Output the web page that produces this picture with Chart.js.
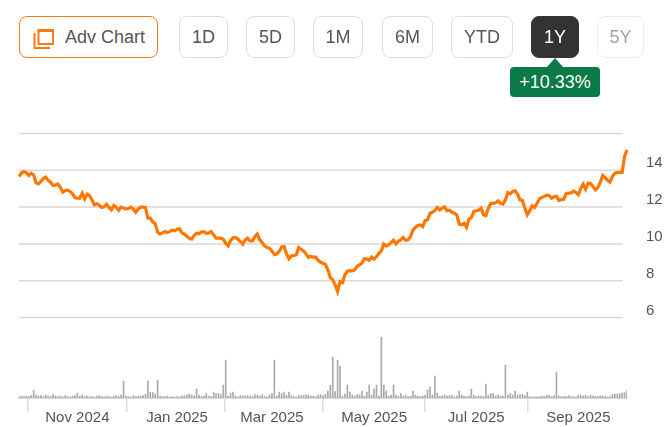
<!DOCTYPE html>
<html>
<head>
<meta charset="utf-8">
<title>Adv Chart</title>
<script src="https://cdn.jsdelivr.net/npm/chart.js@4/dist/chart.umd.min.js"></script>
<style>
  html, body { margin: 0; padding: 0; background: #fff; }
  body { width: 670px; height: 427px; position: relative; overflow: hidden; font-family: "Liberation Sans", Arial, sans-serif; }
  canvas { position: absolute; left: 0; top: 0; }
  .btn {
    position: absolute; top: 16px; height: 42px; box-sizing: border-box;
    border: 1px solid #dcdcdc; border-radius: 8px; background: #fff;
    color: #555; font-size: 18px; line-height: 40px; text-align: center;
  }
  .btn.adv { left: 19px; width: 139px; border-color: #f97a12; text-align: left; padding-left: 45px; }
  .btn.adv svg { position: absolute; left: 13px; top: 11px; }
  .btn.on { background: #333; border-color: #333; color: #fff; }
  .btn.off { color: #a3a3a3; border-color: #ececec; }
  .tip {
    position: absolute; left: 510px; top: 67px; width: 90px; height: 30px;
    background: #0a7a47; border-radius: 4px; color: #fff;
    font-size: 18px; line-height: 30px; text-align: center;
  }
  .tip::before {
    content: ""; position: absolute; left: 37px; top: -9px;
    border-left: 8px solid transparent; border-right: 8px solid transparent;
    border-bottom: 9px solid #0a7a47;
  }
</style>
</head>
<body>
<canvas id="chart" width="670" height="427"></canvas>
<div class="btn adv">
  <svg width="22" height="22" viewBox="0 0 22 22" fill="none" stroke="#f97a12">
    <rect x="5.5" y="2.5" width="14.5" height="13.5" stroke-width="2"/>
    <line x1="4.5" y1="2.5" x2="21" y2="2.5" stroke-width="3"/>
    <path d="M1.5 5 V20 H17" stroke-width="2"/>
  </svg>
  Adv Chart
</div>
<div class="btn" style="left:179px;width:49px">1D</div>
<div class="btn" style="left:246px;width:49px">5D</div>
<div class="btn" style="left:313px;width:50px">1M</div>
<div class="btn" style="left:382px;width:51px">6M</div>
<div class="btn" style="left:451px;width:62px">YTD</div>
<div class="btn on" style="left:531px;width:48px">1Y</div>
<div class="btn off" style="left:597px;width:47px">5Y</div>
<div class="tip">+10.33%</div>

<script>
  // values, one per trading day
  const prices = [
    13.66, 13.85, 13.93, 13.88, 13.72, 13.84, 13.75, 13.32, 13.26, 13.40,
    13.56, 13.63, 13.45, 13.35, 13.17, 13.20, 13.26, 13.08, 12.81, 12.90,
    12.92, 12.85, 12.72, 12.52, 12.48, 12.48, 12.76, 12.45, 12.70, 12.62,
    12.40, 12.12, 12.19, 12.10, 11.98, 12.02, 12.16, 11.98, 11.85, 12.09,
    11.98, 11.83, 12.00, 11.95, 11.90, 11.92, 12.00, 11.90, 11.72, 11.90,
    12.00, 12.00, 11.98, 11.40, 11.40, 11.20, 11.10, 10.64, 10.53, 10.60,
    10.67, 10.62, 10.68, 10.75, 10.71, 10.80, 10.82, 10.60, 10.53, 10.42,
    10.30, 10.26, 10.45, 10.58, 10.55, 10.65, 10.67, 10.58, 10.60, 10.67,
    10.50, 10.31, 10.31, 10.31, 10.25, 10.04, 9.89, 10.18, 10.33, 10.35,
    10.26, 10.13, 9.98, 10.22, 10.31, 10.16, 10.16, 10.40, 10.53, 10.22,
    10.07, 9.89, 9.80, 9.77, 9.62, 9.42, 9.46, 9.59, 9.84, 9.86,
    9.46, 9.19, 9.35, 9.37, 9.40, 9.80, 9.71, 9.62, 9.46, 9.26,
    9.33, 9.28, 9.28, 9.11, 9.00, 8.95, 8.88, 8.59, 8.17, 8.05,
    7.77, 7.41, 7.95, 7.90, 8.32, 8.52, 8.55, 8.53, 8.59, 8.77,
    8.86, 8.95, 9.19, 9.17, 9.11, 9.28, 9.17, 9.31, 9.49, 9.62,
    10.00, 9.89, 9.95, 10.07, 10.20, 10.00, 10.16, 10.22, 10.35, 10.20,
    10.22, 10.40, 10.76, 10.89, 11.00, 11.03, 10.94, 11.27, 11.31, 11.67,
    11.72, 11.81, 11.98, 11.85, 11.94, 12.01, 11.80, 11.83, 11.72, 11.67,
    11.58, 11.07, 11.04, 11.12, 10.90, 11.34, 11.43, 11.76, 11.80, 11.83,
    11.94, 11.58, 11.54, 11.94, 12.20, 12.20, 12.23, 12.34, 12.20, 12.16,
    12.39, 12.79, 12.72, 12.85, 12.88, 12.70, 12.39, 12.36, 11.94, 11.58,
    11.80, 12.07, 11.98, 12.20, 12.45, 12.52, 12.58, 12.65, 12.63, 12.48,
    12.56, 12.59, 12.36, 12.41, 12.43, 12.74, 12.76, 12.77, 12.88, 12.79,
    12.67, 13.03, 13.25, 12.97, 13.30, 13.28, 13.12, 12.94, 13.06, 13.35,
    13.72, 13.61, 13.46, 13.35, 13.66, 13.84, 13.88, 13.88, 13.88, 14.75,
    15.11
  ];

  const volumes = [
    1.5, 2, 1.5, 2, 1.5, 2.5, 7.5, 3, 2, 2.5,
    1.5, 3, 2, 1.5, 3.5, 2, 1.5, 2, 1, 2.5,
    1.5, 1, 2, 2.5, 5, 2, 3, 1.5, 2, 1.5,
    1.5, 1, 2, 2.5, 1.5, 1, 2, 1.5, 1, 2,
    2.5, 1.5, 3, 17, 2, 1.5, 1, 2.5, 1.5, 2,
    2, 2.5, 4, 17, 6, 5.5, 4, 18, 2, 1.5,
    1.5, 2, 1, 1.5, 1, 1.5, 1, 2, 2.5, 3,
    4, 3, 2, 9, 3, 1.5, 2, 4.5, 2, 1.5,
    6, 4.5, 4.5, 3.5, 13, 38, 2, 5, 6, 2,
    1, 2.5, 2.5, 2, 2.5, 2, 1.5, 3.5, 3, 2,
    3.5, 1.5, 1, 3, 4.5, 38, 2, 6, 4.5, 6,
    3, 6, 2.5, 1.5, 1, 3, 2.5, 2.5, 3, 3,
    2, 2, 1.5, 3, 3.5, 2.5, 4, 7, 13, 41,
    6.5, 38, 32, 2, 4, 13, 6, 3, 2, 3.5,
    3.5, 7, 2, 6, 13, 3, 9, 13, 2, 61,
    13, 7, 2, 3, 13, 3, 2, 4.5, 2, 3,
    1.5, 2, 7, 3, 2, 1.5, 2, 3, 8, 11,
    3, 22, 5, 2, 2, 3, 2, 2.5, 3, 1,
    2, 7, 3, 2, 1.5, 2, 9, 3, 1.5, 2,
    2, 1.5, 14, 3, 4.5, 4.5, 2, 3, 2, 2,
    33, 3, 4.5, 3, 7, 3, 3.5, 3.5, 2.5, 6,
    1.5, 1, 1.5, 1, 1.5, 2, 1.5, 3, 2.5, 1.5,
    2.5, 26, 2, 1.5, 1.5, 1.5, 2.5, 1.5, 1.5, 1,
    3, 3, 2, 3, 1.5, 3, 2, 2, 1.5, 2.5,
    2, 1.5, 1, 1.5, 3.5, 4, 4, 4.5, 5, 5.5,
    7.5
  ];

  const monthIndex  = [24, 65, 104, 146, 188, 230];
  const monthLabels = ["Nov 2024", "Jan 2025", "Mar 2025", "May 2025", "Jul 2025", "Sep 2025"];
  const priceTicks  = [6, 8, 10, 12, 14, 16];
  const priceLabels = ["6", "8", "10", "12", "14", ""];

  const labels = prices.map((_, i) => {
    const m = monthIndex.indexOf(i);
    return m >= 0 ? monthLabels[m] : "";
  });

  // horizontal rules stop a little short of the end of the line
  const shortGrid = {
    id: "shortGrid",
    beforeDatasetsDraw(chart) {
      const { ctx, chartArea, scales } = chart;
      ctx.save();
      ctx.strokeStyle = "#d9d9d9";
      ctx.lineWidth = 1.5;
      for (const t of scales.y.ticks) {
        const y = scales.y.getPixelForValue(t.value);
        ctx.beginPath();
        ctx.moveTo(chartArea.left, y);
        ctx.lineTo(chartArea.right - 4, y);
        ctx.stroke();
      }
      ctx.restore();
    },
  };

  new Chart(document.getElementById("chart"), {
    data: {
      labels,
      datasets: [
        {
          type: "line",
          data: prices,
          yAxisID: "y",
          borderColor: "#ff7700",
          borderWidth: 3.2,
          pointRadius: 0,
          tension: 0,
          order: 1,
          clip: false,
        },
        {
          type: "bar",
          data: volumes,
          yAxisID: "vol",
          backgroundColor: "#aaaaaa",
          barThickness: 1,
          order: 2,
        },
      ],
    },
    plugins: [shortGrid],
    options: {
      responsive: false,
      animation: false,
      devicePixelRatio: 1,
      layout: { padding: { left: 19, top: 133.5, right: 0, bottom: 0 } },
      plugins: { legend: { display: false }, tooltip: { enabled: false } },
      scales: {
        x: {
          type: "category",
          offset: false,
          afterBuildTicks: s => { s.ticks = monthIndex.map(v => ({ value: v })); },
          afterFit: s => { s.height = 29; },
          border: { color: "#dddddd", width: 2 },
          grid: { drawOnChartArea: false, color: "#dddddd", lineWidth: 1.5, tickLength: 14 },
          ticks: {
            autoSkip: false, maxRotation: 0, padding: -3,
            color: "#555", font: { family: "'Liberation Sans'", size: 15 },
          },
        },
        y: {
          position: "right",
          min: 1.625,
          max: 16,
          afterBuildTicks: s => { s.ticks = priceTicks.map(v => ({ value: v })); },
          afterFit: s => { s.width = 43; },
          border: { display: false },
          grid: { display: false },
          ticks: {
            padding: 11,
            labelOffset: -7,
            color: "#555",
            font: { family: "'Liberation Sans'", size: 15 },
            callback: v => priceLabels[priceTicks.indexOf(v)],
          },
        },
        vol: { display: false, position: "left", min: 0, max: 264.5 },
      },
    },
  });
</script>
</body>
</html>
